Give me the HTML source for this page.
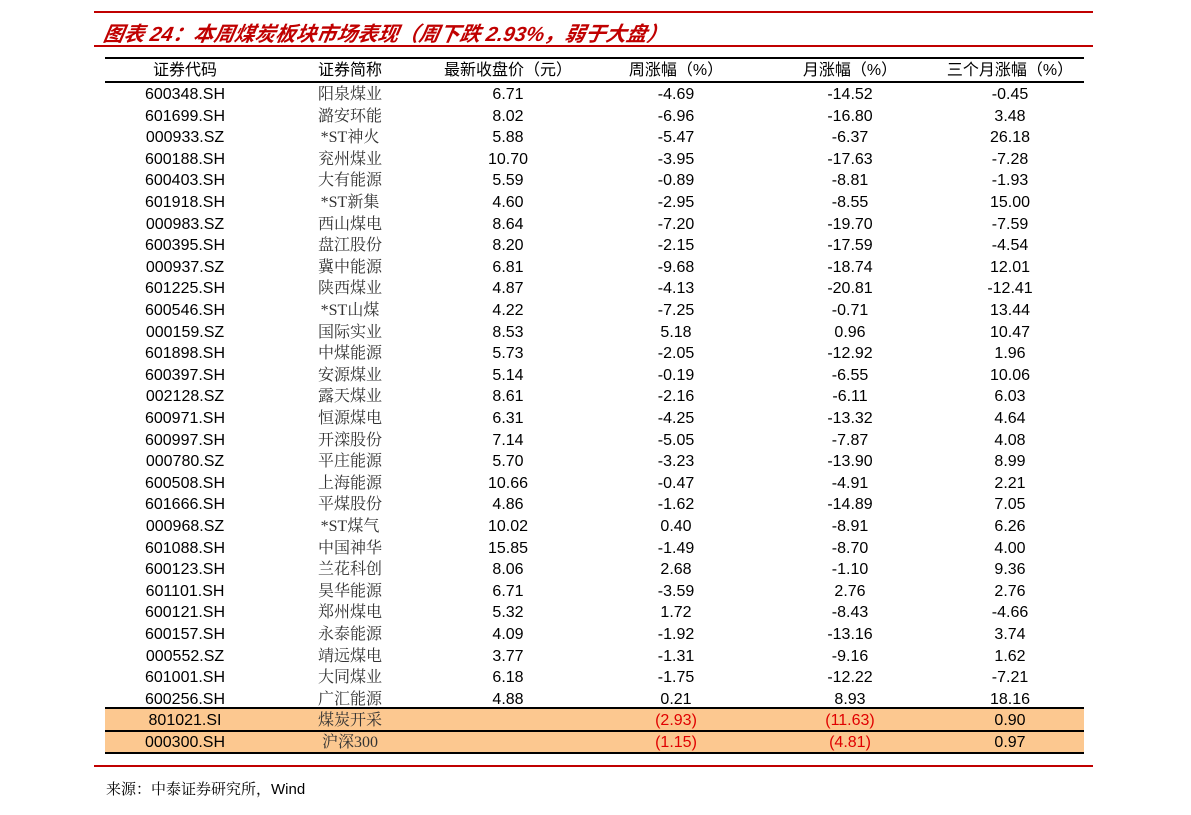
<!DOCTYPE html><html><head><meta charset="utf-8"><style>
body{margin:0;width:1191px;height:815px;background:#fff;position:relative;overflow:hidden;font-family:"Liberation Sans","Noto Sans CJK SC",sans-serif;}
.l{position:absolute;left:94px;width:999px;height:2px;background:#c00000}
.b{position:absolute;left:105px;width:979px;background:#000}
.c{position:absolute;transform:translate(-50%,-50%);white-space:nowrap;font-size:16px;color:#000;line-height:1}
.n{font-family:"Liberation Serif","Noto Serif CJK SC",serif;color:#333}
.r{color:#e00000}
.h{position:absolute;left:105px;width:979px;height:22px;background:#fcc890}
</style></head><body>
<div class="l" style="top:11px"></div>
<div class="l" style="top:45px"></div>
<div style="position:absolute;left:104px;top:17px;font-size:20.5px;font-weight:bold;font-style:italic;color:#c00000;font-family:'Liberation Sans','Noto Sans CJK SC',sans-serif;transform:skewX(-10deg);transform-origin:left">图表 24：本周煤炭板块市场表现（周下跌 2.93%，弱于大盘）</div>
<div class="b" style="top:57px;height:2px"></div>
<div class="b" style="top:81px;height:2px"></div>
<div class="h" style="top:709px"></div>
<div class="h" style="top:731px"></div>
<div class="b" style="top:707px;height:2px"></div>
<div class="b" style="top:730px;height:2px"></div>
<div class="b" style="top:752px;height:2px"></div>
<div class="l" style="top:765px"></div>
<div style="position:absolute;left:106px;top:778px;font-size:15px;font-family:'Liberation Sans','Noto Serif CJK SC',serif;color:#000">来源：中泰证券研究所，Wind</div>
<div id="t"></div>
<script>
var X=[185,350,508,676,850,1010];
var H=["证券代码","证券简称","最新收盘价（元）","周涨幅（%）","月涨幅（%）","三个月涨幅（%）"];
var D=`600348.SH 阳泉煤业 6.71 -4.69 -14.52 -0.45
601699.SH 潞安环能 8.02 -6.96 -16.80 3.48
000933.SZ *ST神火 5.88 -5.47 -6.37 26.18
600188.SH 兖州煤业 10.70 -3.95 -17.63 -7.28
600403.SH 大有能源 5.59 -0.89 -8.81 -1.93
601918.SH *ST新集 4.60 -2.95 -8.55 15.00
000983.SZ 西山煤电 8.64 -7.20 -19.70 -7.59
600395.SH 盘江股份 8.20 -2.15 -17.59 -4.54
000937.SZ 冀中能源 6.81 -9.68 -18.74 12.01
601225.SH 陕西煤业 4.87 -4.13 -20.81 -12.41
600546.SH *ST山煤 4.22 -7.25 -0.71 13.44
000159.SZ 国际实业 8.53 5.18 0.96 10.47
601898.SH 中煤能源 5.73 -2.05 -12.92 1.96
600397.SH 安源煤业 5.14 -0.19 -6.55 10.06
002128.SZ 露天煤业 8.61 -2.16 -6.11 6.03
600971.SH 恒源煤电 6.31 -4.25 -13.32 4.64
600997.SH 开滦股份 7.14 -5.05 -7.87 4.08
000780.SZ 平庄能源 5.70 -3.23 -13.90 8.99
600508.SH 上海能源 10.66 -0.47 -4.91 2.21
601666.SH 平煤股份 4.86 -1.62 -14.89 7.05
000968.SZ *ST煤气 10.02 0.40 -8.91 6.26
601088.SH 中国神华 15.85 -1.49 -8.70 4.00
600123.SH 兰花科创 8.06 2.68 -1.10 9.36
601101.SH 昊华能源 6.71 -3.59 2.76 2.76
600121.SH 郑州煤电 5.32 1.72 -8.43 -4.66
600157.SH 永泰能源 4.09 -1.92 -13.16 3.74
000552.SZ 靖远煤电 3.77 -1.31 -9.16 1.62
601001.SH 大同煤业 6.18 -1.75 -12.22 -7.21
600256.SH 广汇能源 4.88 0.21 8.93 18.16`.split("\n").map(s=>s.split(" "));
var h="";
function cell(x,y,t,cl){h+='<div class="c '+(cl||"")+'" style="left:'+x+'px;top:'+y+'px">'+t+'</div>';}
H.forEach((t,i)=>cell(X[i],71,t));
D.forEach((r,j)=>{var y=95+21.6*j;r.forEach((t,i)=>cell(X[i],y,t,i==1?"n":""));});
cell(X[0],721,"801021.SI");cell(X[1],721,"煤炭开采","n");cell(X[3],721,"(2.93)","r");cell(X[4],721,"(11.63)","r");cell(X[5],721,"0.90");
cell(X[0],743,"000300.SH");cell(X[1],743,"沪深300","n");cell(X[3],743,"(1.15)","r");cell(X[4],743,"(4.81)","r");cell(X[5],743,"0.97");
document.getElementById("t").innerHTML=h;
</script>
</body></html>
